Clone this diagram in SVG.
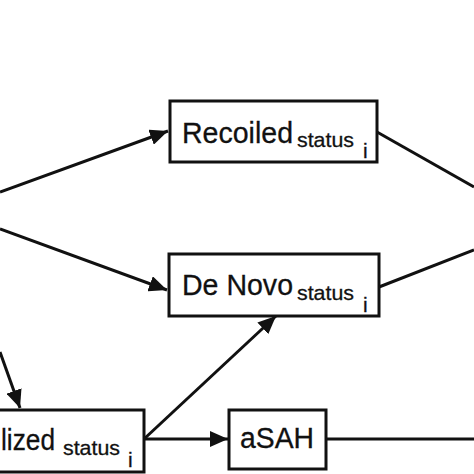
<svg xmlns="http://www.w3.org/2000/svg" width="474" height="474" viewBox="0 0 474 474">
<style>
.box{fill:#fff;stroke:#111;stroke-width:3}
.ln{stroke:#111;stroke-width:3;fill:none}
.t{font-family:"Liberation Sans",Arial,sans-serif;fill:#111;stroke:#111;stroke-width:0.3}
.big{font-size:29px}
.sub{font-size:21px}
</style>
<defs>
<marker id="ah" viewBox="0 0 18 16" refX="18" refY="8" markerWidth="18" markerHeight="16" markerUnits="userSpaceOnUse" orient="auto">
<path d="M0,0 L18,8 L0,16 Z" fill="#111"/>
</marker>
</defs>
<rect width="474" height="474" fill="#fff"/>
<g id="connectors">
<line class="ln" x1="0" y1="192" x2="168" y2="131" marker-end="url(#ah)"/>
<line class="ln" x1="0" y1="229" x2="167" y2="290" marker-end="url(#ah)"/>
<line class="ln" x1="0" y1="352" x2="20" y2="408" marker-end="url(#ah)"/>
<line class="ln" x1="144" y1="439" x2="276" y2="316" marker-end="url(#ah)"/>
<line class="ln" x1="144" y1="439" x2="228" y2="439" marker-end="url(#ah)"/>
<line class="ln" x1="377" y1="132" x2="474" y2="187"/>
<line class="ln" x1="379" y1="287" x2="474" y2="250"/>
<line class="ln" x1="326" y1="439" x2="474" y2="439"/>
</g>
<g id="recoiled">
<rect class="box" x="170" y="101" width="207" height="61"/>
<text class="t big" x="182" y="143" textLength="111" lengthAdjust="spacingAndGlyphs">Recoiled</text>
<text class="t sub" x="297" y="147" textLength="57" lengthAdjust="spacingAndGlyphs">status</text>
<text class="t sub" x="363" y="158">i</text>
</g>
<g id="denovo">
<rect class="box" x="169" y="254" width="210" height="62"/>
<text class="t big" x="182" y="295" textLength="111" lengthAdjust="spacingAndGlyphs">De Novo</text>
<text class="t sub" x="297" y="300" textLength="57" lengthAdjust="spacingAndGlyphs">status</text>
<text class="t sub" x="363" y="312">i</text>
</g>
<g id="lized">
<rect class="box" x="-20" y="410" width="164" height="62"/>
<text class="t big" x="1" y="450" textLength="54" lengthAdjust="spacingAndGlyphs">lized</text>
<text class="t sub" x="63" y="455" textLength="57" lengthAdjust="spacingAndGlyphs">status</text>
<text class="t sub" x="128" y="467">i</text>
</g>
<g id="asah">
<rect class="box" x="229" y="410" width="97" height="59"/>
<text class="t big" x="240" y="448" textLength="74" lengthAdjust="spacingAndGlyphs">aSAH</text>
</g>
</svg>
